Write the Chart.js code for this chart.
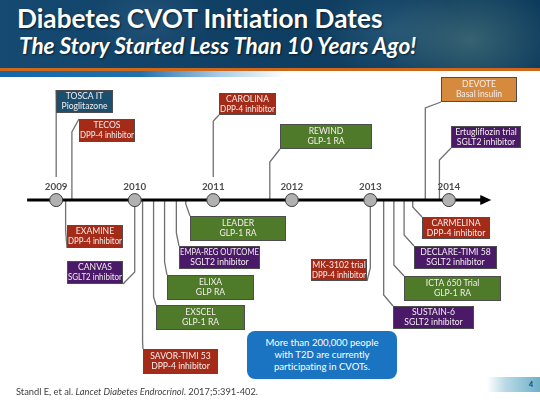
<!DOCTYPE html>
<html>
<head>
<meta charset="utf-8">
<script src="https://cdn.jsdelivr.net/npm/chart.js@4.4.1/dist/chart.umd.min.js"></script>
<style>
    body { margin: 0; width: 540px; height: 405px; position: relative; overflow: hidden; background: #fff; font-family: Lato, 'Open Sans', sans-serif; font-variant-ligatures: none; }
    #header {
        position: absolute; left: 0; top: 0; width: 540px; height: 68px;
        background:
            radial-gradient(ellipse 90px 60px at 470px 40px, rgba(90,130,130,0.55), rgba(90,130,130,0) 100%),
            radial-gradient(ellipse 70px 50px at 390px 30px, rgba(60,110,140,0.5), rgba(60,110,140,0) 100%),
            radial-gradient(ellipse 60px 40px at 150px 20px, rgba(70,110,150,0.35), rgba(70,110,150,0) 100%),
            linear-gradient(to right, #164a72 0%, #0f3f63 45%, #0c3a5c 100%);
    }
    #orange { position: absolute; left: 0; top: 68px; width: 540px; height: 2.5px; background: #d0681c; }
    #strip { position: absolute; left: 0; top: 70.5px; width: 540px; height: 6.5px;
        background: linear-gradient(to right, #1667a8 0px, #1f70ae 140px, #a9cde4 220px, #ffffff 285px); }
    #title { position: absolute; left: 17px; top: 2px; color: #fff; font-weight: bold; font-size: 26.2px; white-space: nowrap; text-shadow: 1px 1px 2px rgba(0,0,0,0.6); }
    #subtitle { position: absolute; left: 19px; top: 32px; color: #fff; font-weight: bold; font-style: italic; font-size: 22.6px; white-space: nowrap; text-shadow: 1px 1px 2px rgba(0,0,0,0.6); }
    #chart { position: absolute; left: 0; top: 0; }
    #note {
        position: absolute; left: 247px; top: 331px; width: 150px; height: 48px; border-radius: 8px;
        background: #1a74c2; color: #fff; font-size: 9.6px; line-height: 12px; text-align: center;
        display: flex; align-items: center; justify-content: center;
    }
    #source { position: absolute; left: 16px; top: 386px; font-size: 9.3px; color: #404040; white-space: nowrap; }
    #page { position: absolute; left: 487px; top: 377px; width: 53px; height: 15px;
        background: linear-gradient(to right, #ffffff 0%, #b8d9e6 35%, #6fb0c8 100%);
        color: #1d3f66; font-size: 7px; font-weight: bold; text-align: right; line-height: 15px; box-sizing: border-box; padding-right: 7px; }
</style>
</head>
<body>
<div id="header"></div>
<div id="orange"></div>
<div id="strip"></div>
<div id="title">Diabetes CVOT Initiation Dates</div>
<div id="subtitle">The Story Started Less Than 10 Years Ago!</div>
<canvas id="chart" width="540" height="405"></canvas>
<div id="note"><div>More than 200,000 people<br>with T2D are currently<br>participating in CVOTs.</div></div>
<div id="source">Standl E, et al. <i>Lancet Diabetes Endrocrinol</i>. 2017;5:391-402.</div>
<div id="page">4</div>
<script>
document.addEventListener('DOMContentLoaded', () => {

    // Timeline data.
    const years = [2009, 2010, 2011, 2012, 2013, 2014];
    const trials = [
        'TOSCA IT', 'TECOS', 'CAROLINA', 'REWIND', 'DEVOTE', 'Ertugliflozin trial',
        'EXAMINE', 'CANVAS', 'SAVOR-TIMI 53', 'EXSCEL', 'ELIXA', 'EMPA-REG OUTCOME', 'LEADER',
        'MK-3102 trial', 'SUSTAIN-6', 'ICTA 650 Trial', 'DECLARE-TIMI 58', 'CARMELINA',
    ];
    const drugClasses = [
        'Pioglitazone', 'DPP-4 inhibitor', 'DPP-4 inhibitor', 'GLP-1 RA', 'Basal insulin', 'SGLT2 inhibitor',
        'DPP-4 inhibitor', 'SGLT2 inhibitor', 'DPP-4 inhibitor', 'GLP-1 RA', 'GLP RA', 'SGLT2 inhibitor', 'GLP-1 RA',
        'DPP-4 inhibitor', 'SGLT2 inhibitor', 'GLP-1 RA', 'SGLT2 inhibitor', 'DPP-4 inhibitor',
    ];
    const startDates = [
        2009.0, 2009.2, 2011.0, 2011.72, 2013.7, 2013.88,
        2009.12, 2010.0, 2010.1, 2010.24, 2010.38, 2010.53, 2010.65,
        2013.0, 2013.17, 2013.3, 2013.43, 2013.54,
    ];

    // Callout layout: box left, top, width, height, elbow y, corner the leader reaches.
    const boxLayout = [
        [56, 90, 57, 23, 102, 'tl'],
        [79, 119, 56, 23, 132, 'tl'],
        [219, 93, 57, 22, 121, 'bl'],
        [280, 124, 92, 25, 162, 'bl'],
        [441, 77, 76, 25, 108, 'bl'],
        [451, 126, 70, 22, 160, 'bl'],
        [67, 225, 56, 23, 230, 'bl'],
        [67, 261, 56, 23, 272, 'br'],
        [143, 349, 75, 25, 342, 'tl'],
        [156, 305, 89, 25, 297, 'tl'],
        [167, 275, 87, 25, 262, 'tl'],
        [179, 246, 81, 23, 233, 'tl'],
        [190, 216, 96, 25, 204, 'tl'],
        [311, 259, 56, 22, 268, 'br'],
        [393, 306, 81, 23, 295, 'tl'],
        [404, 276, 97, 25, 265, 'tl'],
        [414, 246, 83, 23, 235, 'tl'],
        [422, 217, 68, 22, 207, 'tl'],
    ];
    const classColors = {
        'Pioglitazone': '#1b4f6f',
        'DPP-4 inhibitor': '#a52b19',
        'GLP-1 RA': '#4f7a29',
        'GLP RA': '#4f7a29',
        'SGLT2 inhibitor': '#4a1968',
        'Basal insulin': '#d68a3d',
    };
    const trialColors = drugClasses.map(c => classColors[c]);

    const axisRow = 200;
    const axisStart = 2008.63;
    const axisEnd = 2014.54;

    const timeline = {
        id: 'timeline',
        beforeDatasetsDraw(chart) {
            const { ctx, scales: { x, y } } = chart;
            const axisY = y.getPixelForValue(axisRow);
            ctx.save();
            ctx.strokeStyle = '#707070';
            ctx.lineWidth = 1.3;
            trials.forEach((trial, i) => {
                const [bx, by, bw, bh, elbowY, corner] = boxLayout[i];
                const px = x.getPixelForValue(startDates[i]);
                // Leaders that leave from a labelled year start above the label.
                const onYear = Math.abs(startDates[i] - Math.round(startDates[i])) < 0.05;
                const startY = elbowY < axisY && onYear ? axisY - 23 : axisY;
                const ax = corner[1] === 'l' ? bx : bx + bw;
                const ay = corner[0] === 't' ? by : by + bh;
                ctx.beginPath();
                ctx.moveTo(px, startY);
                ctx.lineTo(px, elbowY);
                ctx.lineTo(ax, ay);
                ctx.stroke();
            });
            // Arrow head at the end of the axis.
            const tip = x.getPixelForValue(axisEnd);
            ctx.fillStyle = '#000';
            ctx.beginPath();
            ctx.moveTo(tip, axisY);
            ctx.lineTo(tip - 11, axisY - 5);
            ctx.lineTo(tip - 11, axisY + 5);
            ctx.closePath();
            ctx.fill();
            ctx.restore();
        },
        afterDatasetsDraw(chart) {
            const { ctx, scales: { x, y } } = chart;
            const axisY = y.getPixelForValue(axisRow);
            ctx.save();
            ctx.textAlign = 'center';
            ctx.textBaseline = 'middle';
            ctx.fillStyle = '#4d4d4d';
            ctx.font = 'bold 9.8px Lato, sans-serif';
            years.forEach(yr => ctx.fillText(String(yr), x.getPixelForValue(yr), axisY - 13));
            ctx.font = '8.6px Lato, sans-serif';
            trials.forEach((trial, i) => {
                const [bx, by, bw, bh] = boxLayout[i];
                ctx.fillStyle = trialColors[i];
                ctx.fillRect(bx, by, bw, bh);
                ctx.strokeStyle = '#4d4d4d';
                ctx.lineWidth = 1;
                ctx.strokeRect(bx + 0.5, by + 0.5, bw - 1, bh - 1);
                ctx.fillStyle = '#f4eeee';
                const cx = bx + bw / 2;
                const cy = by + bh / 2;
                ctx.fillText(trial, cx, cy - 5, bw - 2);
                ctx.fillText(drugClasses[i], cx, cy + 5, bw - 2);
            });
            ctx.restore();
        },
    };

    new Chart(document.getElementById('chart'), {
        type: 'scatter',
        data: {
            datasets: [
                {
                    data: [{ x: axisStart, y: axisRow }, { x: axisEnd - 0.1, y: axisRow }],
                    showLine: true,
                    borderColor: '#000',
                    borderWidth: 3,
                    pointRadius: 0,
                    order: 2,
                },
                {
                    data: years.map(yr => ({ x: yr, y: axisRow })),
                    pointRadius: 6.5,
                    backgroundColor: '#b1b1b1',
                    borderColor: '#3c3c3c',
                    borderWidth: 1,
                    order: 1,
                },
            ],
        },
        options: {
            responsive: false,
            animation: false,
            events: [],
            layout: { padding: 0 },
            clip: false,
            scales: {
                x: { type: 'linear', min: 2008.38, max: 2015.065, display: false },
                y: { type: 'linear', min: 0, max: 405, reverse: true, display: false },
            },
            plugins: {
                legend: { display: false },
                tooltip: { enabled: false },
            },
        },
        plugins: [timeline],
    });

});
</script>
</body>
</html>
